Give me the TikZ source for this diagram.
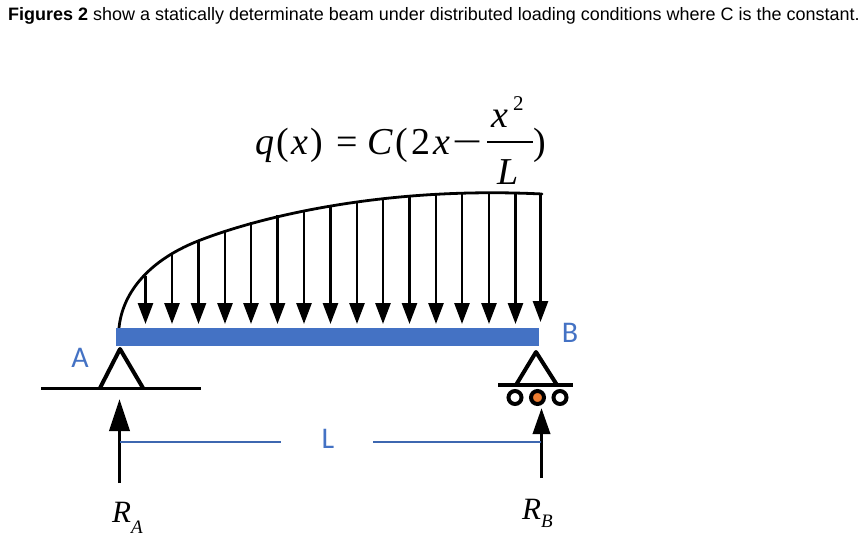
\documentclass[tikz,border=0pt]{standalone}
\usepackage{fontspec}
\setmainfont{Liberation Sans}
\newfontfamily\eqfont{Liberation Serif}
\newfontfamily\labfont{Carlito}
\usetikzlibrary{arrows.meta}
\definecolor{beamblue}{HTML}{4472C4}
\definecolor{rollerorange}{HTML}{ED7D31}
\tikzset{
  txt/.style={inner sep=0pt, anchor=base west},
  eqtxt/.style={txt, font=\eqfont\fontsize{38}{38}\selectfont},
  lab/.style={inner sep=0pt, text=beamblue, font=\labfont\fontsize{30}{30}\selectfont},
  load/.style={line width=2.8pt, -{Triangle[length=21pt,width=15pt]}},
  react/.style={line width=3.6pt, -{Triangle[length=32pt,width=20pt]}},
  support/.style={line width=4pt, line join=round},
  dim/.style={line width=2.2pt, beamblue!90!black},
  roller/.style={line width=4pt, draw=black}
}
\begin{document}
\begin{tikzpicture}[y=-1pt, x=1pt]
\useasboundingbox (0,0) rectangle (868,538);
\node[txt, font=\fontsize{17.98}{20}\selectfont] (title) at (8,20.5) {\textbf{Figures 2} show a statically determinate beam under distributed loading conditions where C is the constant.};
% formula
\node[eqtxt] (eqleft) at (255,154) {\textit{q}\kern2.5pt(\kern2pt\textit{x}\kern2pt)\kern13.5pt=\kern10pt\textit{C}\kern2pt(\kern3pt2\kern3.5pt\textit{x}\kern2pt\scalebox{1.4}[1]{\char"2212}};
\node[eqtxt] (eqnum) at (491,127) {\textit{x}};
\node[txt, font=\eqfont\fontsize{21}{21}\selectfont] (eqsup) at (513,110) {2};
\node[eqtxt] (eqden) at (497,184) {\textit{L}};
\node[eqtxt] (eqclose) at (533,154) {)};
\draw[line width=1.6pt] (487,142) -- (533,142);
% load
\draw[line width=2.8pt, line cap=round] (119,328) .. controls (122,296) and (145,262) .. (198,241) .. controls (255,218.5) and (380,186) .. (542,194);
\foreach \xpos/\ytop in {145.5/276,172/255,198.5/241,225/230,251/222,277.5/215,304/210,330.5/205,357/202,383/199,409.5/197,436/195,462/193,489/193,515.5/193}
  \draw[load] (\xpos,\ytop) -- (\xpos,324);
\draw[load] (540.5,194) -- (540.5,322);
% beam
\fill[beamblue] (116,328) rectangle (538.5,346);
\node[lab] (labA) at (80,358) {A};
\node[lab] (labB) at (570,333) {B};
% support A
\draw[support] (100,388) -- (120,349) -- (143,388);
\draw[line width=3.8pt] (41,388.5) -- (200.5,388.5);
% support B
\draw[support] (516,385) -- (536,352) -- (557,385);
\draw[line width=3.8pt] (498,385) -- (573,385);
\draw[roller] (515,397.5) circle (6.5);
\draw[roller, fill=rollerorange] (537.5,397.5) circle (6.5);
\draw[roller] (560,397.5) circle (6.5);
% reactions
\coordinate (tailA) at (119.5,483);
\coordinate (headA) at (119.5,399);
\coordinate (tailB) at (541.5,478);
\coordinate (headB) at (541.5,408);
\draw[react] (tailA) -- (headA);
\draw[react, -{Triangle[length=26pt,width=17pt]}] (tailB) -- (headB);
% span
\node[lab] (labL) at (328,439) {L};
\coordinate (dimA) at (120,442);
\coordinate (dimA2) at (281,442);
\coordinate (dimB) at (373,442);
\coordinate (dimB2) at (541,442);
\draw[dim] (dimA) -- (dimA2);
\draw[dim] (dimB) -- (dimB2);
% reaction labels
\node[txt, font=\eqfont\fontsize{31}{31}\selectfont\itshape] (labRA) at (112,522) {R};
\node[txt, font=\eqfont\fontsize{19}{19}\selectfont\itshape] (subRA) at (131,533) {A};
\node[txt, font=\eqfont\fontsize{31}{31}\selectfont\itshape] (labRB) at (522,519) {R};
\node[txt, font=\eqfont\fontsize{19}{19}\selectfont\itshape] (subRB) at (541,527.5) {B};
\end{tikzpicture}
\end{document}
